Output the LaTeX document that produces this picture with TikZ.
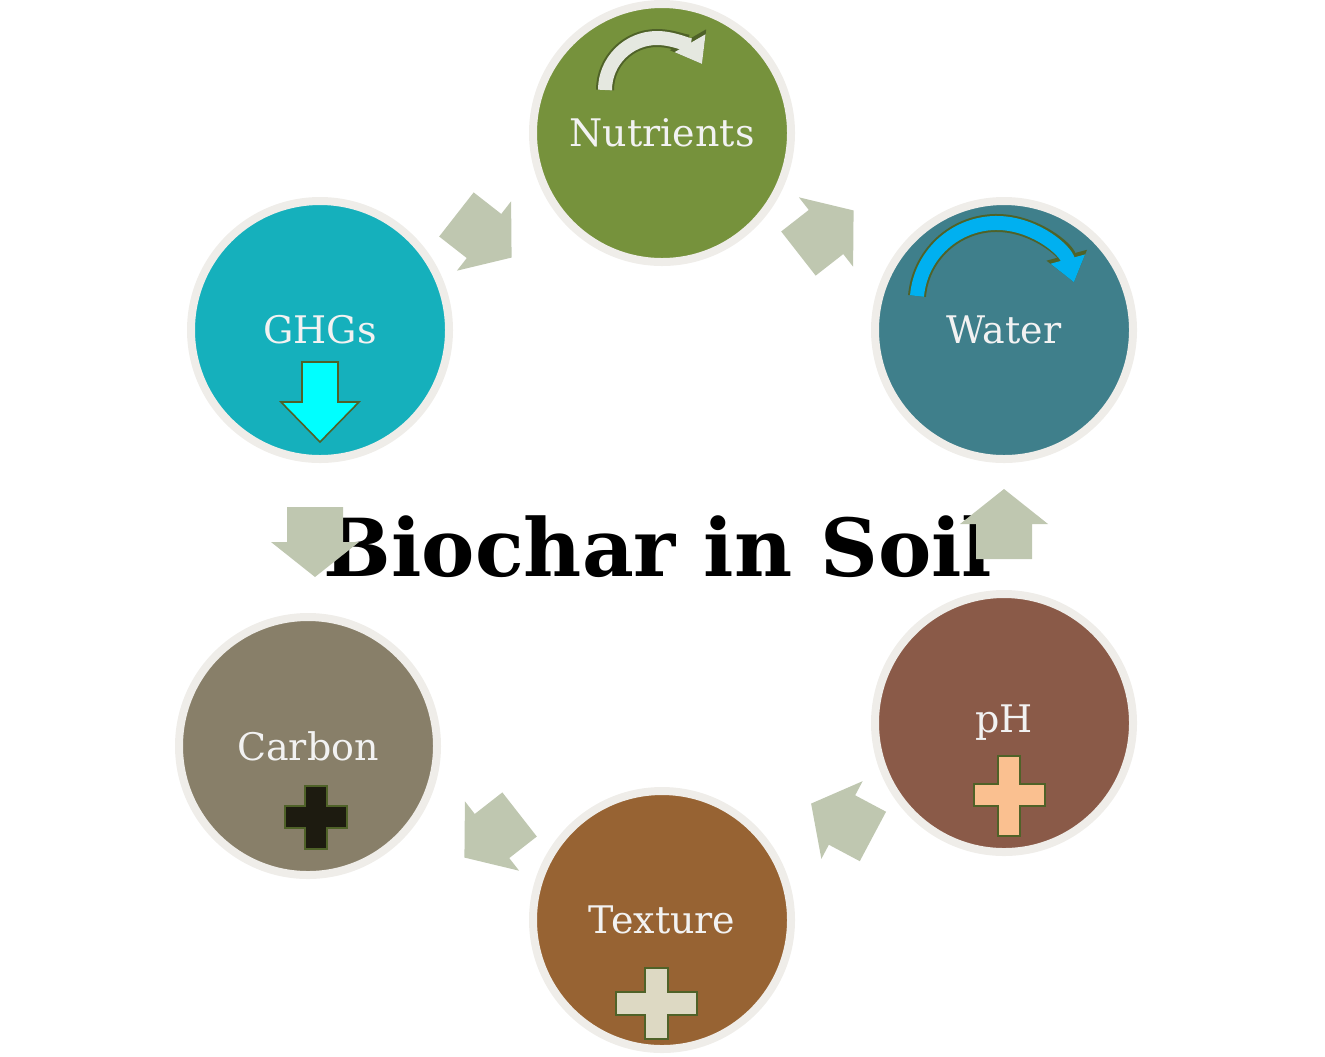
\documentclass[tikz,border=0pt]{standalone}
\usepackage{fontspec}
\setmainfont{DejaVu Serif}
\usetikzlibrary{arrows.meta}
\definecolor{cNut}{HTML}{76923C}
\definecolor{cWat}{HTML}{3F7F8B}
\definecolor{cPH}{HTML}{8A5A48}
\definecolor{cTex}{HTML}{976333}
\definecolor{cCar}{HTML}{887F69}
\definecolor{cGHG}{HTML}{15B0BC}
\definecolor{cArr}{HTML}{BFC7B0}
\definecolor{cRim}{HTML}{EFEDE9}
\definecolor{cTxt}{HTML}{F2F2F2}
\definecolor{cBord}{HTML}{4F6228}
\definecolor{cBlue}{HTML}{00B0F0}
\definecolor{cCyan}{HTML}{00FFFF}
\definecolor{cP1}{HTML}{FAC090}
\definecolor{cP2}{HTML}{DDD9C3}
\definecolor{cP3}{HTML}{1D1B10}
\newlength\unitpx \setlength\unitpx{0.5pt}
\tikzset{
  bub/.style={circle,minimum size=258\unitpx,inner sep=0,draw=cRim,line width=4pt,fill=#1},
  lbl/.style={text=cTxt,font=\fontsize{19}{19}\selectfont},
  blk/.pic={\fill[cArr] (-35,-28)--(0,-28)--(0,-44)--(35,0)--(0,44)--(0,28)--(-35,28)--cycle;},
  plus/.style={fill=#1,draw=cBord,line width=0.8pt},
}
\begin{document}
\begin{tikzpicture}[x=0.5pt,y=-0.5pt]
\useasboundingbox (0,0) rectangle (1325,1056);
\node[bub=cNut] (nut) at (662,133) {};
\node[bub=cWat] (wat) at (1004,330) {};
\node[bub=cPH] (ph) at (1004,723) {};
\node[bub=cTex] (tex) at (662,920) {};
\node[bub=cCar] (car) at (308,746) {};
\node[bub=cGHG] (ghg) at (320,330) {};
\node[lbl] (tnut) at (662,133) {Nutrients};
\node[lbl] (twat) at (1004,330) {Water};
\node[lbl] (tph) at (1004,723) {pH};
\node[lbl] (ttex) at (662,920) {Texture};
\node[lbl] (tcar) at (308,746) {Carbon};
\node[lbl] (tghg) at (320,330) {GHGs};
\node[font=\fontsize{40}{40}\selectfont\bfseries] (title) at (658,547) {Biochar in Soil};
% block arrows
\pic[rotate=-38] at (484,236) {blk};
\pic[rotate=38] at (826,232) {blk};
\pic[rotate=90] at (1004,524) {blk};
\pic[rotate=152] at (842,820) {blk};
\pic[rotate=218] at (492,836) {blk};
\pic[rotate=270] at (315,542) {blk};
% curved arrows
\draw[cBord,line width=9pt,-{Triangle[length=14pt,width=20pt]}] (605,90) arc(180:330:52);
\draw[cTxt!90!cNut,line width=7pt,-{Triangle[length=12pt,width=17pt]}] (605,90) arc(180:330:52);
\draw[cBord,line width=9pt,-{Triangle[length=14pt,width=20pt]}] (917,296) arc(185:345:80);
\draw[cBlue,line width=7pt,-{Triangle[length=12pt,width=17pt]}] (917,296) arc(185:345:80);
% GHG down arrow
\filldraw[fill=cCyan,draw=cBord,line width=0.8pt]
 (302,362)--(338,362)--(338,402)--(359,402)--(320,442)--(281,402)--(302,402)--cycle;
% pluses
\filldraw[plus=cP1] (998,756)--(1020,756)--(1020,784)--(1045,784)--(1045,806)--(1020,806)--(1020,836)--(998,836)--(998,806)--(974,806)--(974,784)--(998,784)--cycle;
\filldraw[plus=cP2] (645,968)--(668,968)--(668,992)--(697,992)--(697,1015)--(668,1015)--(668,1039)--(645,1039)--(645,1015)--(616,1015)--(616,992)--(645,992)--cycle;
\filldraw[plus=cP3] (305,786)--(327,786)--(327,806)--(347,806)--(347,828)--(327,828)--(327,849)--(305,849)--(305,828)--(285,828)--(285,806)--(305,806)--cycle;
\end{tikzpicture}
\end{document}
